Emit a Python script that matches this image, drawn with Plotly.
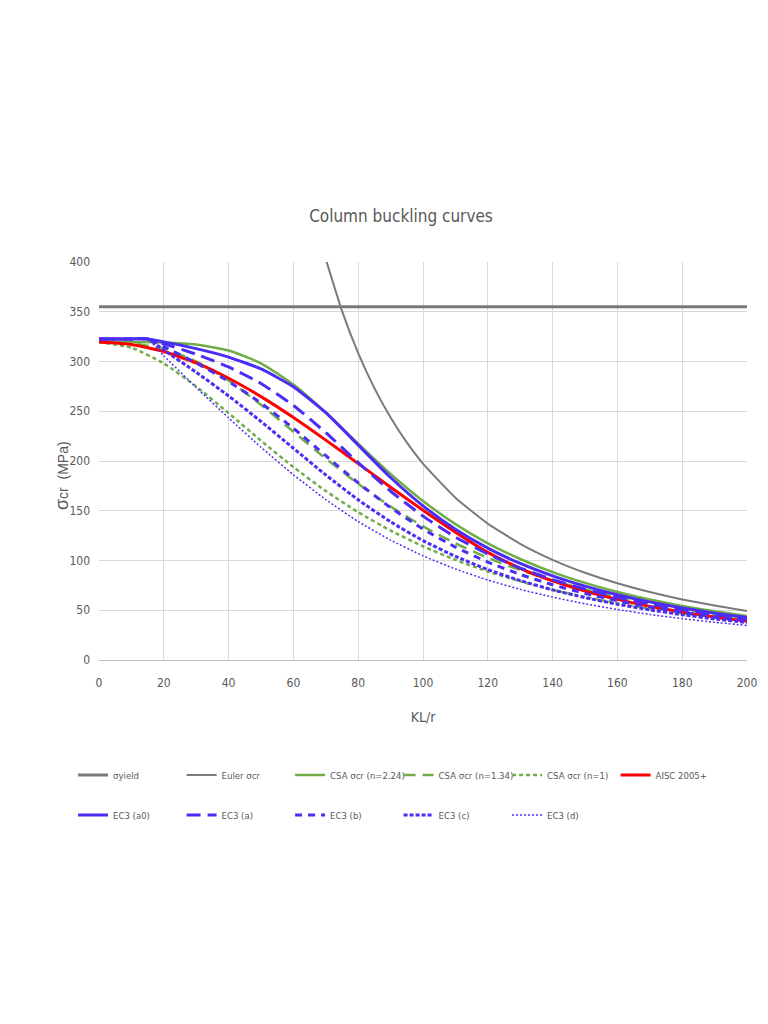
import plotly.graph_objects as go

# ---------------- data ----------------
kl_r = [0, 10, 20, 30, 40, 50, 60, 70, 80, 90, 100, 110, 120, 130, 140, 150, 160, 170, 180, 190, 200]
kl_r_ec3 = [0, 10, 15, 20, 30, 40, 50, 60, 70, 80, 90, 100, 110, 120, 130, 140, 150, 160, 170, 180, 190, 200]
kl_r_euler = [70, 75, 80, 85, 90, 95, 100, 110, 120, 130, 140, 150, 160, 170, 180, 190, 200]

yield_x = [0, 200]
yield_y = [355, 355]

euler = [402.9, 350.9, 308.4, 273.2, 243.7, 218.7, 197.4, 163.1, 137.1, 116.8, 100.7, 87.7, 77.1, 68.3, 60.9, 54.7, 49.3]

csa_224 = [319.5, 319.5, 319.1, 317.1, 311.1, 298.2, 276.9, 248.7, 217.4, 186.9, 159.8, 136.6, 117.3, 101.5, 88.3, 77.5, 68.4, 60.8, 54.4, 48.9, 44.2]
csa_134 = [319.5, 318.4, 312.7, 300.2, 280.9, 256.5, 229.4, 202.4, 177.0, 154.2, 134.3, 117.2, 102.7, 90.3, 79.9, 71.0, 63.4, 56.9, 51.3, 46.4, 42.2]
csa_1 = [319.5, 313.9, 298.1, 275.0, 248.1, 220.4, 193.9, 169.8, 148.5, 130.1, 114.2, 100.6, 89.0, 79.1, 70.6, 63.3, 57.0, 51.6, 46.8, 42.6, 39.0]
aisc = [319.5, 317.1, 310.0, 298.6, 283.2, 264.7, 243.7, 221.0, 197.4, 173.7, 150.5, 128.5, 108.2, 92.2, 79.5, 69.3, 60.9, 53.9, 48.1, 43.2, 39.0]

ec3_a0 = [322.7, 322.7, 322.7, 319.7, 312.9, 304.4, 292.5, 274.6, 248.5, 216.0, 183.4, 154.9, 131.4, 112.4, 97.0, 84.5, 74.2, 65.6, 58.4, 52.3, 47.1, 42.7]
ec3_a = [322.7, 322.7, 322.7, 317.8, 307.3, 294.5, 277.9, 255.9, 228.5, 198.4, 169.6, 144.6, 123.6, 106.5, 92.4, 80.8, 71.2, 63.1, 56.4, 50.6, 45.7, 41.4]
ec3_b = [322.7, 322.7, 322.7, 314.9, 298.6, 280.0, 258.2, 232.9, 205.3, 178.0, 153.1, 131.6, 113.5, 98.4, 86.0, 75.6, 66.9, 59.6, 53.4, 48.1, 43.5, 39.6]
ec3_c = [322.7, 322.7, 322.7, 311.5, 289.2, 265.4, 239.7, 212.8, 186.0, 161.0, 138.9, 120.0, 104.2, 90.9, 79.8, 70.5, 62.7, 56.1, 50.4, 45.5, 41.3, 37.7]
ec3_d = [322.7, 322.7, 322.7, 305.7, 273.9, 243.3, 213.8, 186.2, 161.2, 139.2, 120.5, 104.7, 91.5, 80.4, 71.0, 63.2, 56.5, 50.8, 45.8, 41.6, 37.9, 34.7]

x_ticks = [0, 20, 40, 60, 80, 100, 120, 140, 160, 180, 200]
y_ticks = [0, 50, 100, 150, 200, 250, 300, 350, 400]

# ---------------- styling ----------------
FONT = "DejaVu Sans Condensed, Roboto, sans-serif"
GRAY = "#7A7A7A"
GREEN = "#70AD47"
RED = "#FF0000"
BLUE = "#4B2DF5"
TXT = "#595959"

series = [
    ("σyield", yield_x, yield_y, GRAY, 3, "solid", "legend"),
    ("Euler σcr", kl_r_euler, euler, GRAY, 2, "solid", "legend"),
    ("CSA σcr (n=2.24)", kl_r, csa_224, GREEN, 2.5, "solid", "legend"),
    ("CSA σcr (n=1.34)", kl_r, csa_134, GREEN, 2.5, "12px,7px", "legend"),
    ("CSA σcr (n=1)", kl_r, csa_1, GREEN, 2.5, "4px,3px", "legend"),
    ("AISC 2005+", kl_r, aisc, RED, 3, "solid", "legend"),
    ("EC3 (a0)", kl_r_ec3, ec3_a0, BLUE, 3, "solid", "legend2"),
    ("EC3 (a)", kl_r_ec3, ec3_a, BLUE, 3, "14px,7px", "legend2"),
    ("EC3 (b)", kl_r_ec3, ec3_b, BLUE, 3, "7px,6px", "legend2"),
    ("EC3 (c)", kl_r_ec3, ec3_c, BLUE, 3, "4px,2px", "legend2"),
    ("EC3 (d)", kl_r_ec3, ec3_d, BLUE, 1.5, "2px,2px", "legend2"),
]

fig = go.Figure()
for name, xs, ys, color, width, dash, leg in series:
    fig.add_trace(go.Scatter(
        x=xs, y=ys, name=name, mode="lines", legend=leg,
        line=dict(color=color, width=width, dash=dash, shape="spline", smoothing=0.5),
        cliponaxis=True,
    ))

legend_common = dict(
    orientation="h", xanchor="left", yanchor="middle",
    font=dict(family=FONT, size=9.5, color=TXT),
    entrywidth=63.5, entrywidthmode="pixels",
    bgcolor="rgba(0,0,0,0)", tracegroupgap=0, itemwidth=30,
)

fig.update_layout(
    width=768, height=1024,
    margin=dict(l=99, r=21, t=262, b=364),
    paper_bgcolor="white", plot_bgcolor="white",
    font=dict(family=FONT, color=TXT),
    title=dict(text="Column buckling curves", x=401 / 768, xanchor="center",
               y=1 - 216 / 1024, yanchor="middle",
               font=dict(family=FONT, size=17, color=TXT)),
    legend=dict(x=-0.04, y=(660 - 775) / 398, **legend_common),
    legend2=dict(x=-0.04, y=(660 - 815) / 398, **legend_common),
    xaxis=dict(range=[0, 200], tickvals=x_ticks, showgrid=True, gridcolor="#D9D9D9",
               gridwidth=1, zeroline=False, showline=True, linecolor="#BFBFBF",
               ticks="", tickfont=dict(family=FONT, size=12, color=TXT),
               ticklabelstandoff=12,
               title=dict(text="KL/r", font=dict(family=FONT, size=14, color=TXT),
                          standoff=22)),
    yaxis=dict(range=[0, 400], tickvals=y_ticks, showgrid=True, gridcolor="#D9D9D9",
               gridwidth=1, zeroline=False, showline=False, ticks="",
               tickfont=dict(family=FONT, size=12, color=TXT), ticklabelstandoff=8),
    annotations=[dict(
        text="<span style='font-size:18px'>σ</span>cr  (MPa)", textangle=-90,
        xref="paper", yref="paper",
        x=(62 - 99) / 648, y=(660 - 476) / 398, xanchor="center", yanchor="middle",
        showarrow=False, font=dict(family="Liberation Sans, Arial, sans-serif", size=14, color=TXT),
    )],
)

fig.write_html("out.html")
